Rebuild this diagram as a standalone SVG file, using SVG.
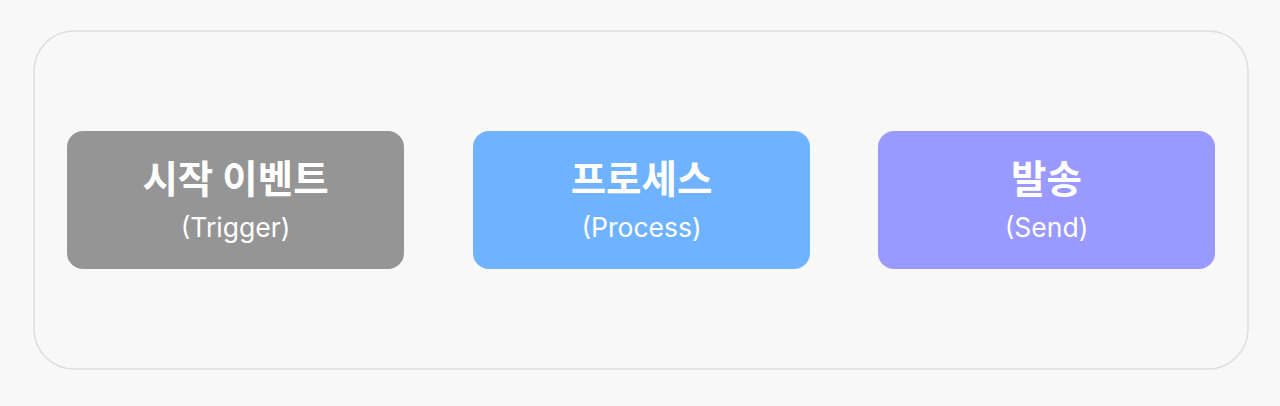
<svg xmlns="http://www.w3.org/2000/svg" width="1280" height="406" viewBox="0 0 1280 406">
<style>
.bg{fill:#f8f8f8}
.frame{fill:#f8f8f8;stroke:#dddddd;stroke-width:1.5}
.box{stroke:none}
.t{font-family:Inter,"Noto Sans CJK KR",sans-serif;font-weight:700;font-size:38.5px;fill:#ffffff;text-anchor:middle}
.s{font-family:Inter,"Noto Sans CJK KR",sans-serif;font-weight:400;font-size:26.5px;fill:#ffffff;text-anchor:middle}
</style>
<rect class="bg" x="0" y="0" width="1280" height="406"/>
<rect class="frame" x="34" y="31" width="1214" height="338" rx="40" ry="40"/>
<g id="connectors"></g>
<g id="node-trigger">
<rect class="box" x="67" y="131" width="337" height="138" rx="16" fill="#959595"/>
<text class="t" x="235.5" y="193">시작 이벤트</text>
<text class="s" x="235.5" y="237">(Trigger)</text>
</g>
<g id="node-process">
<rect class="box" x="473" y="131" width="337" height="138" rx="16" fill="#6fb2ff"/>
<text class="t" x="641.5" y="193">프로세스</text>
<text class="s" x="641.5" y="237">(Process)</text>
</g>
<g id="node-send">
<rect class="box" x="878" y="131" width="337" height="138" rx="16" fill="#9999ff"/>
<text class="t" x="1046.5" y="193">발송</text>
<text class="s" x="1046.5" y="237">(Send)</text>
</g>
</svg>
